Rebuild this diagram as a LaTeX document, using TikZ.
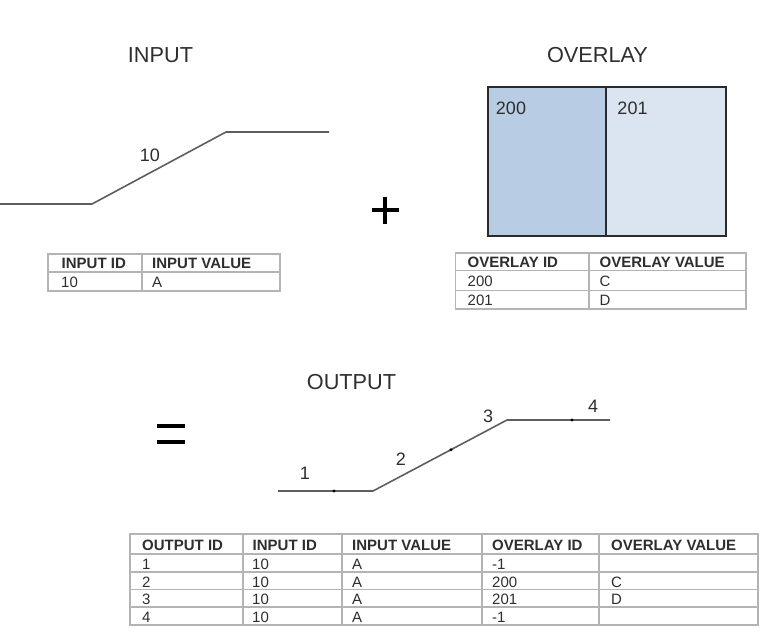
\documentclass[tikz,border=0pt]{standalone}
\usepackage{fontspec}
\setmainfont{Liberation Sans}
\definecolor{txt}{HTML}{2E2E2E}
\definecolor{linegray}{HTML}{5E5E5E}
\definecolor{tablegray}{HTML}{B4B4B4}
\definecolor{blueA}{HTML}{B8CCE4}
\definecolor{blueB}{HTML}{DBE5F2}
\definecolor{boxedge}{HTML}{2A2A2A}
\begin{document}
\begin{tikzpicture}[x=1pt,y=-1pt,
  title/.style={inner sep=0, text=txt, font=\fontsize{21.7}{24}\selectfont},
  lab/.style={inner sep=0, text=txt, font=\fontsize{18}{20}\selectfont},
  hd/.style={anchor=west, inner sep=0, text=txt, font=\fontsize{15}{17}\selectfont\bfseries},
  cell/.style={anchor=west, inner sep=0, text=txt, font=\fontsize{15}{17}\selectfont},
  grid/.style={draw=tablegray, line width=1.1pt},
  prof/.style={draw=linegray, line width=1.6pt, line join=round},
  dot/.style={circle, fill=black, inner sep=0, minimum size=3.2pt},
  sym/.style={draw=black, line width=3.2pt}
]
\useasboundingbox (0,0) rectangle (768,638);

% ---------- INPUT ----------
\node[title] (tin) at (160.5,55) {INPUT};
\coordinate (i0) at (0,204);
\coordinate (i1) at (92,204);
\coordinate (i2) at (226,132);
\coordinate (i3) at (329,132);
\draw[prof] (i0) -- (i1) -- (i2) -- (i3);
\node[lab] (l10) at (150,155) {10};

% input table
\draw[grid] (48,254) rectangle (280,291);
\draw[grid] (48,272) -- (280,272);
\draw[grid] (142,254) -- (142,291);
\node[hd] (ih1) at (61.5,263) {INPUT ID};
\node[hd] (ih2) at (152,263) {INPUT VALUE};
\node[cell] (ic1) at (61,282) {10};
\node[cell] (ic2) at (152,282) {A};

% ---------- plus ----------
\coordinate (pc) at (385,210);
\draw[sym] ([xshift=-13.5pt]pc) -- ([xshift=13.5pt]pc);
\draw[sym] ([yshift=-13.5pt]pc) -- ([yshift=13.5pt]pc);

% ---------- OVERLAY ----------
\node[title] (tov) at (597.5,55.5) {OVERLAY};
\fill[blueA] (488,87) rectangle (606,236);
\fill[blueB] (606,87) rectangle (726,236);
\draw[draw=boxedge, line width=2pt] (488,87) rectangle (726,236);
\draw[draw=boxedge, line width=2pt] (606,87) -- (606,236);
\node[lab] (o200) at (511,108.5) {200};
\node[lab] (o201) at (632.5,108.5) {201};

% overlay table
\draw[grid] (455.5,253) rectangle (746,309);
\draw[grid] (455.5,270.5) -- (746,270.5);
\draw[grid] (455.5,290.5) -- (746,290.5);
\draw[grid] (589,253) -- (589,309);
\node[hd] (oh1) at (467.5,262) {OVERLAY ID};
\node[hd] (oh2) at (599.5,262) {OVERLAY VALUE};
\node[cell] (oc11) at (467.5,281.5) {200};
\node[cell] (oc12) at (599.5,281.5) {C};
\node[cell] (oc21) at (467.5,300.5) {201};
\node[cell] (oc22) at (599.5,300.5) {D};

% ---------- equals ----------
\coordinate (e0) at (157,426);
\coordinate (e1) at (185,426);
\coordinate (e2) at (157,442);
\coordinate (e3) at (185,442);
\draw[sym] (e0) -- (e1);
\draw[sym] (e2) -- (e3);

% ---------- OUTPUT ----------
\node[title] (tout) at (351.5,382.5) {OUTPUT};
\coordinate (o0) at (278,491);
\coordinate (o1) at (373,491);
\coordinate (o2) at (507,420);
\coordinate (o3) at (610,420);
\draw[prof] (o0) -- (o1) -- (o2) -- (o3);
\node[dot] (d1) at (334,491) {};
\node[dot] (d2) at (451,449.7) {};
\node[dot] (d3) at (572,420) {};
\node[lab] (n1) at (305,473.5) {1};
\node[lab] (n2) at (401,459) {2};
\node[lab] (n3) at (488,416) {3};
\node[lab] (n4) at (593,406) {4};

% output table
\draw[grid] (130,534) rectangle (758,625);
\foreach \yy in {554,572,589.5,607} \draw[grid] (130,\yy) -- (758,\yy);
\foreach \xx in {243,342,482,599} \draw[grid] (\xx,534) -- (\xx,625);
\node[hd] (th1) at (142,545) {OUTPUT ID};
\node[hd] (th2) at (252.5,545) {INPUT ID};
\node[hd] (th3) at (352,545) {INPUT VALUE};
\node[hd] (th4) at (492,545) {OVERLAY ID};
\node[hd] (th5) at (611,545) {OVERLAY VALUE};
% row 1
\node[cell] (r11) at (142,564) {1};
\node[cell] (r12) at (252,564) {10};
\node[cell] (r13) at (352,564) {A};
\node[cell] (r14) at (492,564) {-1};
% row 2
\node[cell] (r21) at (142,582) {2};
\node[cell] (r22) at (252,582) {10};
\node[cell] (r23) at (352,582) {A};
\node[cell] (r24) at (492,582) {200};
\node[cell] (r25) at (611,582) {C};
% row 3
\node[cell] (r31) at (142,599.5) {3};
\node[cell] (r32) at (252,599.5) {10};
\node[cell] (r33) at (352,599.5) {A};
\node[cell] (r34) at (492,599.5) {201};
\node[cell] (r35) at (611,599.5) {D};
% row 4
\node[cell] (r41) at (142,617) {4};
\node[cell] (r42) at (252,617) {10};
\node[cell] (r43) at (352,617) {A};
\node[cell] (r44) at (492,617) {-1};
\end{tikzpicture}
\end{document}
